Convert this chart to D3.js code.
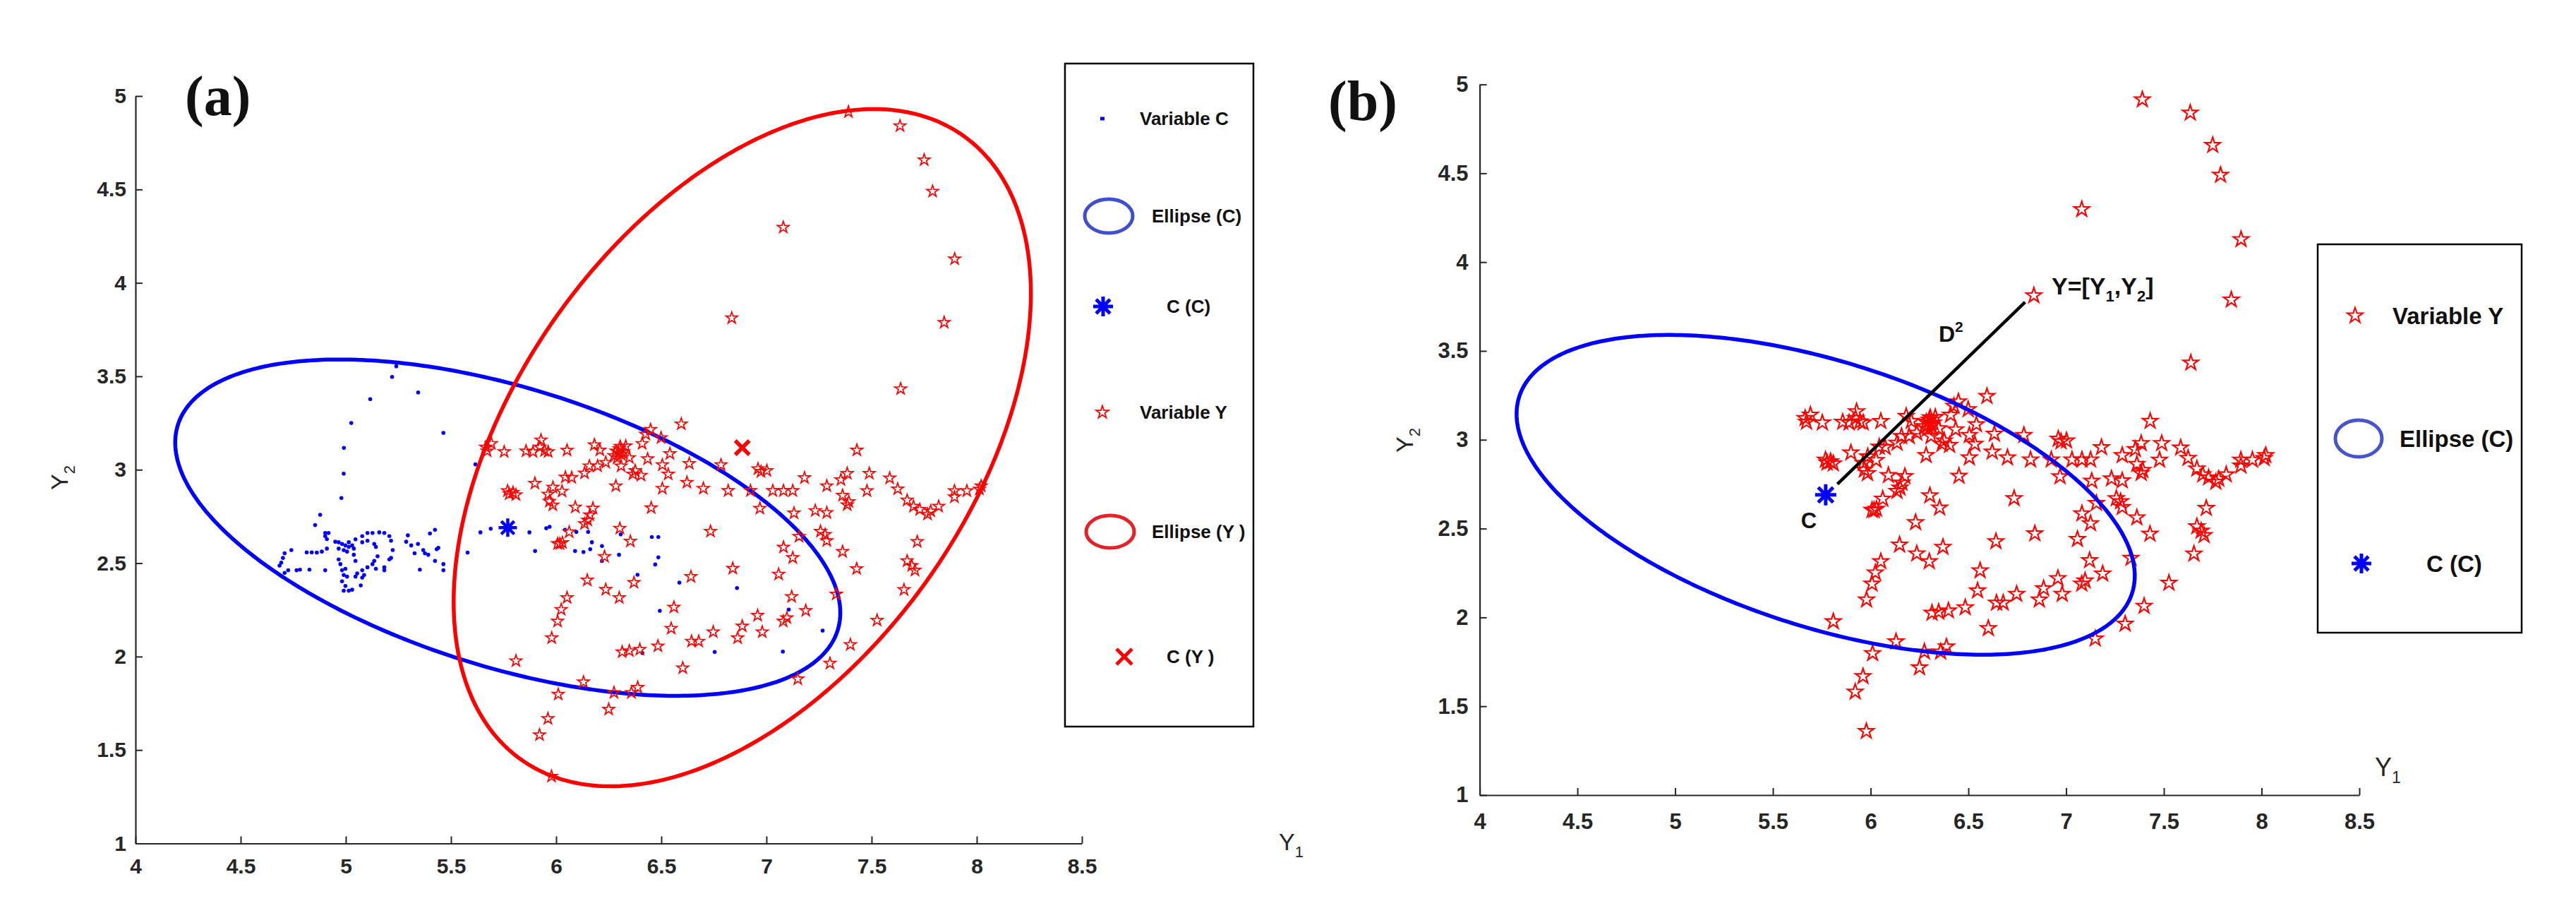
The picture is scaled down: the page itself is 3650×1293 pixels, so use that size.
<!DOCTYPE html>
<html><head><meta charset="utf-8">
<script src="https://cdn.jsdelivr.net/npm/d3@7"></script>
<style>body{margin:0;background:#fff;} svg{display:block;}</style>
</head><body>
<svg id="chart" width="3650" height="1293"></svg>
<script>
// ---------- DATA ----------
const xTicks = [4, 4.5, 5, 5.5, 6, 6.5, 7, 7.5, 8, 8.5];
const yTicks = [1, 1.5, 2, 2.5, 3, 3.5, 4, 4.5, 5];

// Variable Y (red stars): Y1 and Y2 coordinates
const varY_Y1 = [7.39,7.635,7.75,7.79,7.08,7.895,6.835,7.845,7.638,6.595,7.43,
 5.665,5.672,5.692,5.753,5.857,5.89,5.928,5.923,5.945,5.962,6.052,6.182,6.208,
 6.158,6.197,6.135,6.236,6.044,6.074,5.899,5.769,5.777,5.795,5.809,
 5.985,5.962,6.028,5.968,5.984,6.091,6.175,6.160,6.150,6.135,6.062,6.018,6.007,6.030,
 6.148,6.052,6.024,6.007,5.979,5.809,6.130,6.010,5.961,5.921,5.978,
 6.298,6.285,6.310,6.300,6.275,6.320,6.290,6.305,
 6.331,6.348,6.309,6.365,6.404,6.376,6.409,6.435,6.449,6.426,6.499,6.505,6.533,6.541,6.622,6.633,6.505,6.452,6.284,6.303,6.353,6.230,6.734,6.784,6.700,6.818,6.924,6.960,6.974,7.002,6.969,7.030,7.081,7.125,7.181,7.131,7.232,7.081,7.125,7.058,7.155,6.840,7.120,7.187,6.958,7.080,7.097,6.980,6.885,6.863,6.747,6.644,6.678,6.560,6.547,6.484,6.314,6.348,6.398,6.641,6.370,6.236,6.300,
 7.287,7.354,7.384,7.362,7.392,7.384,7.287,
 7.489,7.478,7.586,7.624,7.669,7.699,7.729,7.766,7.781,7.819,7.894,7.894,7.953,8.013,8.021,
 7.257,7.279,7.287,7.362,7.429,7.717,7.669,7.691,7.706,7.654,7.332,7.526,7.399,7.302,
 6.602,7.149,6.275,6.358,6.388,6.250];
const varY_Y2 = [4.915,4.84,4.658,4.49,4.297,4.128,3.812,3.788,3.433,3.245,3.105,
 3.121,3.100,3.140,3.096,3.100,3.096,3.159,3.121,3.102,3.096,3.104,3.133,3.105,
 3.020,3.020,2.982,3.039,2.960,2.958,2.927,2.887,2.871,2.878,2.866,
 2.906,2.869,2.885,2.831,2.811,2.800,2.794,2.758,2.730,2.711,2.667,2.604,2.604,2.610,
 2.409,2.315,2.252,2.189,2.100,1.977,1.864,1.798,1.668,1.581,1.359,
 3.089,3.100,3.080,3.112,3.075,3.095,3.062,3.125,
 3.127,3.064,3.020,2.976,2.970,2.995,3.140,3.058,3.215,3.190,3.171,3.026,2.976,3.086,2.932,3.033,2.900,2.796,2.913,2.686,2.617,2.535,2.670,3.026,2.900,2.888,2.888,3.005,2.990,2.995,2.793,2.888,2.888,2.888,2.957,2.768,2.781,2.585,2.529,2.441,2.643,2.472,2.321,2.246,2.220,2.189,2.207,2.132,2.163,2.100,2.132,2.082,2.082,2.264,2.151,2.056,2.025,2.031,2.038,2.428,2.396,2.359,2.315,
 2.913,2.946,2.980,2.863,2.829,2.812,2.770,
 2.980,2.887,2.955,2.897,2.837,2.804,2.787,2.762,2.779,2.804,2.887,2.854,2.887,2.896,2.913,
 2.670,2.653,2.620,2.562,2.470,2.615,2.512,2.487,2.462,2.358,2.334,2.194,2.064,1.964,
 1.939,1.880,1.807,1.807,1.835,1.718];

// Variable C (blue dots): Y1 and Y2 coordinates
const varC_Y1 = [5.240,5.220,5.344,5.116,5.026,5.464,4.991,4.990,4.979,4.878,4.854,5.616,
 5.640,5.689,5.873,5.953,5.969,6.042,6.096,6.152,6.170,6.218,6.218,6.307,6.299,5.900,6.090,6.130,6.162,5.579,
 6.455,6.486,6.486,6.471,6.387,6.586,6.493,6.860,6.410,6.754,7.078,7.106,7.267,
 5.424,5.400,5.440,5.432,5.424,5.464,5.464,5.352,5.295,5.287,5.311,5.327,5.343,5.368,5.376,5.392,
 4.902,4.918,4.902,4.910,4.886,4.862,4.838,4.814,4.910,4.950,4.966,4.982,4.998,5.014,5.030,4.966,4.990,5.014,5.006,5.038,
 5.046,5.078,5.103,5.127,5.159,5.183,5.078,5.103,5.135,5.143,5.207,5.215,5.223,5.215,5.207,5.151,5.135,5.127,5.103,5.078,
 5.054,5.046,5.087,5.078,5.038,5.046,5.143,5.183,5.183,4.966,4.974,4.982,4.990,4.998,5.006,4.982,4.998,4.990,5.014,5.030,
 5.071,4.902,4.827,4.782,4.766,4.726,4.709,4.693,4.701,4.709,4.741,4.685];
const varC_Y2 = [3.554,3.497,3.414,3.378,3.250,3.197,3.117,2.979,2.849,2.759,2.704,3.029,
 2.665,2.684,2.665,2.687,2.695,2.679,2.667,2.667,2.612,2.592,2.512,2.654,2.545,2.565,2.565,2.560,2.575,2.557,
 2.640,2.640,2.531,2.493,2.438,2.396,2.245,2.367,2.019,2.025,2.027,2.252,2.139,
 2.679,2.659,2.582,2.575,2.512,2.495,2.462,2.465,2.649,2.615,2.595,2.553,2.603,2.570,2.553,2.545,
 2.662,2.662,2.645,2.629,2.562,2.557,2.558,2.558,2.578,2.615,2.612,2.603,2.595,2.612,2.595,2.578,2.570,2.587,2.562,2.578,
 2.628,2.645,2.662,2.662,2.665,2.662,2.612,2.620,2.603,2.587,2.645,2.620,2.570,2.528,2.520,2.537,2.512,2.495,2.478,2.462,
 2.445,2.428,2.437,2.423,2.545,2.512,2.470,2.478,2.462,2.520,2.495,2.462,2.437,2.470,2.428,2.403,2.378,2.353,2.353,2.358,
 2.381,2.462,2.465,2.465,2.462,2.462,2.448,2.503,2.528,2.553,2.570,2.487];

// Centres and covariance-like shape [s11, s12, s22] of the two ellipses
const centreC = [5.77, 2.69];
const shapeC = [2.50, -0.72, 0.81];
const centreY = [6.885, 3.118];
const shapeY = [1.883, 1.133, 3.284];

// Distance segment D^2 in panel (b)
const d2LineY1 = [5.83, 6.79];
const d2LineY2 = [2.75, 3.775];

const legendLabelsA = ["Variable C", "Ellipse (C)", "C (C)", "Variable Y", "Ellipse (Y )", "C (Y )"];
const legendLabelsB = ["Variable Y", "Ellipse (C)", "C (C)"];

// ---------- DRAWING ----------
const svg = d3.select('#chart');
const AX = '#262626';
const SANS = "'Liberation Sans', Arial, Helvetica, sans-serif";

function ellipsePoints(c, s) {
  const l11 = Math.sqrt(s[0]), l21 = s[1] / l11, l22 = Math.sqrt(s[2] - l21 * l21);
  return d3.range(0, 360, 1).map(a => {
    const t = a * Math.PI / 180;
    return [c[0] + l11 * Math.cos(t), c[1] + l21 * Math.cos(t) + l22 * Math.sin(t)];
  });
}
function asteriskPath(r) {
  let p = '';
  for (let k = 0; k < 4; k++) {
    const a = k * Math.PI / 4, dx = r * Math.cos(a), dy = r * Math.sin(a);
    p += `M${-dx},${-dy}L${dx},${dy}`;
  }
  return p;
}
function crossPath(r) { return `M${-r},${-r}L${r},${r}M${-r},${r}L${r},${-r}`; }

function makeAxes(cfg) {
  const x = d3.scaleLinear().domain([4, 8.5]).range([cfg.x0, cfg.x1]);
  const y = d3.scaleLinear().domain([1, 5]).range([cfg.yb, cfg.yt]);
  const gx = svg.append('g').attr('transform', `translate(0,${cfg.yb})`)
    .call(d3.axisBottom(x).tickValues(xTicks).tickSizeInner(-10).tickSizeOuter(0)
      .tickPadding(cfg.xpad).tickFormat(d => String(d)));
  const gy = svg.append('g').attr('transform', `translate(${cfg.x0},0)`)
    .call(d3.axisLeft(y).tickValues(yTicks).tickSizeInner(-10).tickSizeOuter(0)
      .tickPadding(cfg.ypad).tickFormat(d => String(d)));
  [gx, gy].forEach(g => {
    g.attr('font-family', SANS).attr('font-size', cfg.fs).attr('font-weight', 'bold');
    g.select('.domain').attr('stroke', AX).attr('stroke-width', 2.2);
    g.selectAll('.tick line').attr('stroke', AX).attr('stroke-width', 2);
    g.selectAll('.tick text').attr('fill', AX);
  });
  return {x, y};
}

// ===== Panel (a) =====
const A = makeAxes({x0: 192, x1: 1533, yb: 1194.5, yt: 136, xpad: 21, ypad: 13, fs: 30});
const lineA = d3.line().x(d => A.x(d[0])).y(d => A.y(d[1])).curve(d3.curveLinearClosed);
const gA = svg.append('g');
gA.selectAll('circle.c').data(d3.zip(varC_Y1, varC_Y2)).join('circle')
  .attr('cx', d => A.x(d[0])).attr('cy', d => A.y(d[1])).attr('r', 2.8).attr('fill', '#0000ff');
gA.append('path').attr('d', lineA(ellipsePoints(centreC, shapeC)))
  .attr('fill', 'none').attr('stroke', '#0000ff').attr('stroke-width', 5.5);
gA.append('path').attr('d', asteriskPath(13))
  .attr('transform', `translate(${A.x(centreC[0])},${A.y(centreC[1])})`)
  .attr('stroke', '#0000ff').attr('stroke-width', 4.5).attr('fill', 'none');
const starA = d3.symbol().type(d3.symbolStar).size(85);
gA.selectAll('path.s').data(d3.zip(varY_Y1, varY_Y2)).join('path')
  .attr('d', starA).attr('transform', d => `translate(${A.x(d[0])},${A.y(d[1])})`)
  .attr('fill', 'none').attr('stroke', '#ff0000').attr('stroke-width', 1.7);
gA.append('path').attr('d', lineA(ellipsePoints(centreY, shapeY)))
  .attr('fill', 'none').attr('stroke', '#ff0000').attr('stroke-width', 5.5);
gA.append('path').attr('d', crossPath(10))
  .attr('transform', `translate(${A.x(centreY[0])},${A.y(centreY[1])})`)
  .attr('stroke', '#ff0000').attr('stroke-width', 5.5).attr('fill', 'none');

// axis labels (a)
svg.append('text').attr('transform', 'translate(96,694) rotate(-90)')
  .attr('font-family', SANS).attr('font-size', 34).attr('fill', AX)
  .text('Y').append('tspan').attr('font-size', 22).attr('dy', 10).text('2');
svg.append('text').attr('x', 1812).attr('y', 1204)
  .attr('font-family', SANS).attr('font-size', 34).attr('fill', AX)
  .text('Y').append('tspan').attr('font-size', 22).attr('dy', 10).text('1');
svg.append('text').attr('x', 262).attr('y', 163)
  .attr('font-family', "'Liberation Serif', 'DejaVu Serif', serif").attr('font-size', 80)
  .attr('font-weight', 'bold').attr('fill', '#111').text('(a)');

// legend (a)
const legA = svg.append('g');
legA.append('rect').attr('x', 1509).attr('y', 90).attr('width', 267).attr('height', 939)
  .attr('fill', '#fff').attr('stroke', '#000').attr('stroke-width', 2.5);
const legAy = [168, 306, 434, 584, 753, 930];
const legAtx = [1615, 1632, 1653, 1615, 1632, 1653];
legA.append('rect').attr('x', 1559).attr('y', legAy[0] - 2.5).attr('width', 6).attr('height', 5).attr('fill', '#0000ff');
legA.append('ellipse').attr('cx', 1571).attr('cy', legAy[1]).attr('rx', 34).attr('ry', 24)
  .attr('fill', 'none').attr('stroke', '#3f4fcf').attr('stroke-width', 5);
legA.append('path').attr('d', asteriskPath(14)).attr('transform', `translate(1563,${legAy[2]})`)
  .attr('stroke', '#0000ff').attr('stroke-width', 5).attr('fill', 'none');
legA.append('path').attr('d', d3.symbol().type(d3.symbolStar).size(100)())
  .attr('transform', `translate(1562,${legAy[3]})`)
  .attr('fill', 'none').attr('stroke', '#ff0000').attr('stroke-width', 1.8);
legA.append('ellipse').attr('cx', 1573).attr('cy', legAy[4]).attr('rx', 34).attr('ry', 23)
  .attr('fill', 'none').attr('stroke', '#e2232a').attr('stroke-width', 5);
legA.append('path').attr('d', crossPath(11)).attr('transform', `translate(1593,${legAy[5]})`)
  .attr('stroke', '#ff0000').attr('stroke-width', 5).attr('fill', 'none');
legA.selectAll('text').data(legendLabelsA).join('text')
  .attr('x', (d, i) => legAtx[i]).attr('y', (d, i) => legAy[i]).attr('dy', '0.36em')
  .attr('font-family', SANS).attr('font-size', 26).attr('font-weight', 'bold').attr('fill', '#111')
  .text(d => d);

// ===== Panel (b) =====
const B = makeAxes({x0: 2096.6, x1: 3343, yb: 1126, yt: 119.6, xpad: 26, ypad: 16, fs: 31});
const lineB = d3.line().x(d => B.x(d[0])).y(d => B.y(d[1])).curve(d3.curveLinearClosed);
const gB = svg.append('g');
const starB = d3.symbol().type(d3.symbolStar).size(145);
gB.selectAll('path.s').data(d3.zip(varY_Y1, varY_Y2)).join('path')
  .attr('d', starB).attr('transform', d => `translate(${B.x(d[0])},${B.y(d[1])})`)
  .attr('fill', 'none').attr('stroke', '#ff0000').attr('stroke-width', 2.1);
gB.append('path').attr('d', lineB(ellipsePoints(centreC, shapeC)))
  .attr('fill', 'none').attr('stroke', '#0000ff').attr('stroke-width', 5.5);
gB.append('path').attr('d', asteriskPath(15))
  .attr('transform', `translate(${B.x(centreC[0])},${B.y(centreC[1])})`)
  .attr('stroke', '#0000ff').attr('stroke-width', 5).attr('fill', 'none');
gB.append('path').attr('d', d3.line().x(d => B.x(d[0])).y(d => B.y(d[1]))(d3.zip(d2LineY1, d2LineY2)))
  .attr('stroke', '#000').attr('stroke-width', 4.5).attr('fill', 'none');

// annotations (b)
svg.append('text').attr('x', 2563).attr('y', 748).attr('text-anchor', 'middle')
  .attr('font-family', SANS).attr('font-size', 31).attr('font-weight', 'bold').attr('fill', '#111').text('C');
const d2 = svg.append('text').attr('x', 2747).attr('y', 484)
  .attr('font-family', SANS).attr('font-size', 32).attr('font-weight', 'bold').attr('fill', '#111').text('D');
d2.append('tspan').attr('font-size', 21).attr('dy', -14).text('2');
const yl = svg.append('text').attr('x', 2907).attr('y', 417)
  .attr('font-family', SANS).attr('font-size', 34).attr('font-weight', 'bold').attr('fill', '#111').text('Y=[Y');
yl.append('tspan').attr('font-size', 22).attr('dy', 10).text('1');
yl.append('tspan').attr('font-size', 34).attr('dy', -10).text(',Y');
yl.append('tspan').attr('font-size', 22).attr('dy', 10).text('2');
yl.append('tspan').attr('font-size', 34).attr('dy', -10).text(']');

// axis labels (b)
svg.append('text').attr('transform', 'translate(2002,641) rotate(-90)')
  .attr('font-family', SANS).attr('font-size', 34).attr('fill', AX)
  .text('Y').append('tspan').attr('font-size', 22).attr('dy', 10).text('2');
svg.append('text').attr('x', 3365).attr('y', 1099)
  .attr('font-family', SANS).attr('font-size', 36).attr('fill', AX)
  .text('Y').append('tspan').attr('font-size', 23).attr('dy', 10).text('1');
svg.append('text').attr('x', 1882).attr('y', 170)
  .attr('font-family', "'Liberation Serif', 'DejaVu Serif', serif").attr('font-size', 80)
  .attr('font-weight', 'bold').attr('fill', '#111').text('(b)');

// legend (b)
const legB = svg.append('g');
legB.append('rect').attr('x', 3284).attr('y', 346).attr('width', 289).attr('height', 550)
  .attr('fill', '#fff').attr('stroke', '#000').attr('stroke-width', 2.5);
const legBy = [447, 621, 798];
const legBtx = [3390, 3400, 3438];
legB.append('path').attr('d', d3.symbol().type(d3.symbolStar).size(150)())
  .attr('transform', `translate(3337,${legBy[0]})`)
  .attr('fill', 'none').attr('stroke', '#ff0000').attr('stroke-width', 2);
legB.append('ellipse').attr('cx', 3342).attr('cy', legBy[1]).attr('rx', 33).attr('ry', 26)
  .attr('fill', 'none').attr('stroke', '#4655c9').attr('stroke-width', 5);
legB.append('path').attr('d', asteriskPath(14)).attr('transform', `translate(3346,${legBy[2]})`)
  .attr('stroke', '#0000ff').attr('stroke-width', 5).attr('fill', 'none');
legB.selectAll('text').data(legendLabelsB).join('text')
  .attr('x', (d, i) => legBtx[i]).attr('y', (d, i) => legBy[i]).attr('dy', '0.36em')
  .attr('font-family', SANS).attr('font-size', 33).attr('font-weight', 'bold').attr('fill', '#111')
  .text(d => d);
</script>
</body></html>
